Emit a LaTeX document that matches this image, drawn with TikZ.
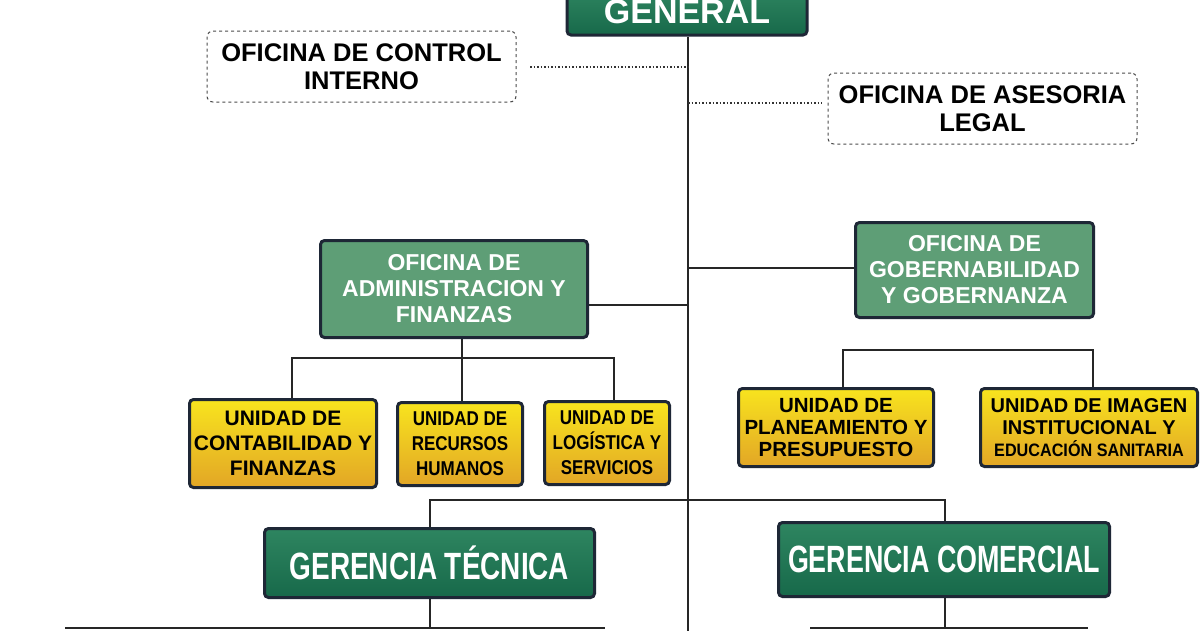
\documentclass[tikz,border=0pt]{standalone}
\usepackage{fontspec}
\setmainfont{Liberation Sans}
\usetikzlibrary{positioning}
\definecolor{dg}{HTML}{17694A}
\definecolor{dgt}{HTML}{2E8560}
\definecolor{lg}{HTML}{5E9E76}
\definecolor{yt}{HTML}{F8E41E}
\definecolor{yb}{HTML}{E2A626}
\definecolor{bd}{HTML}{1E2736}
\tikzset{
 bx/.style={draw=bd,line width=3pt,rounded corners=4pt,align=center,inner sep=0pt,font=\bfseries},
 dbox/.style={bx,top color=dgt,bottom color=dg,text=white},
 lbox/.style={bx,fill=lg,text=white,font=\bfseries\fontsize{23}{26}\selectfont},
 ybox/.style={bx,top color=yt,bottom color=yb,text=black,font=\bfseries\fontsize{21}{25}\selectfont},
 dashbox/.style={draw=black!70,dashed,line width=1pt,rounded corners=6pt,align=center,font=\bfseries\fontsize{25.5}{28}\selectfont},
 ln/.style={line width=2pt,draw=black!85},
 dl/.style={line width=1.5pt,dotted,draw=black!80}
}
\begin{document}
\begin{tikzpicture}[x=1pt,y=-1pt]
\useasboundingbox (0,0) rectangle (1200,630);
\fill[white] (0,0) rectangle (1200,630);
\begin{scope}
\clip (0,0) rectangle (1200,630);
\draw[ln] (688,37) -- (688,632);
\draw[dl] (530,67) -- (688,67);
\draw[dl] (688,103) -- (822,103);
\draw[ln] (588,305) -- (688,305);
\draw[ln] (688,268) -- (855,268);
\draw[ln] (462,338) -- (462,358);
\draw[ln] (292,400) -- (292,358) -- (614,358) -- (614,401);
\draw[ln] (462,358) -- (462,402);
\draw[ln] (843,388) -- (843,350) -- (1093,350) -- (1093,388);
\draw[ln] (430,528) -- (430,500) -- (945,500) -- (945,523);
\draw[ln] (430,598) -- (430,628);
\draw[ln] (65,628) -- (605,628);
\draw[ln] (945,597) -- (945,628);
\draw[ln] (810,628) -- (1088,628);

\node[dbox,minimum width=240,minimum height=46,font=\bfseries\fontsize{34}{36}\selectfont] (gen) at (687,12) {\raisebox{-6pt}{GENERAL}};
\node[dashbox,minimum width=309,minimum height=71] (oci) at (361.5,66.5) {OFICINA DE CONTROL\\INTERNO};
\node[dashbox,minimum width=309,minimum height=71] (oal) at (982.5,108.5) {OFICINA DE ASESORIA\\LEGAL};
\node[lbox,minimum width=267,minimum height=97] (oaf) at (454,289) {OFICINA DE\\ADMINISTRACION Y\\FINANZAS};
\node[lbox,minimum width=238,minimum height=95] (ogg) at (974.5,270) {OFICINA DE\\GOBERNABILIDAD\\Y GOBERNANZA};
\node[ybox,minimum width=187,minimum height=88] (ucf) at (283,443.5) {UNIDAD DE\\CONTABILIDAD Y\\FINANZAS};
\node[ybox,minimum width=125,minimum height=83,font=\bfseries\fontsize{20}{25}\selectfont] (urh) at (460,444) {\scalebox{0.85}[1]{UNIDAD DE}\\\scalebox{0.85}[1]{RECURSOS}\\\scalebox{0.85}[1]{HUMANOS}};
\node[ybox,minimum width=125,minimum height=83,font=\bfseries\fontsize{20}{25}\selectfont] (uls) at (607,443) {\scalebox{0.85}[1]{UNIDAD DE}\\\scalebox{0.85}[1]{LOGÍSTICA Y}\\\scalebox{0.85}[1]{SERVICIOS}};
\node[ybox,minimum width=195,minimum height=78,font=\bfseries\fontsize{20.5}{22}\selectfont] (upp) at (836,427.5) {UNIDAD DE\\PLANEAMIENTO Y\\PRESUPUESTO};
\node[ybox,minimum width=217,minimum height=78,font=\bfseries\fontsize{20}{22}\selectfont] (uii) at (1089,427.5) {UNIDAD DE IMAGEN\\INSTITUCIONAL Y\\{\fontsize{18}{22}\selectfont\scalebox{0.9}[1]{EDUCACIÓN SANITARIA}}};
\node[dbox,minimum width=330,minimum height=69] (gt) at (429.5,563) {\scalebox{0.735}[1]{\fontsize{38}{40}\selectfont GERENCIA TÉCNICA}};
\node[dbox,minimum width=331,minimum height=74] (gc) at (944,559.5) {\scalebox{0.707}[1]{\fontsize{38}{40}\selectfont GERENCIA COMERCIAL}};
\end{scope}
\end{tikzpicture}
\end{document}
